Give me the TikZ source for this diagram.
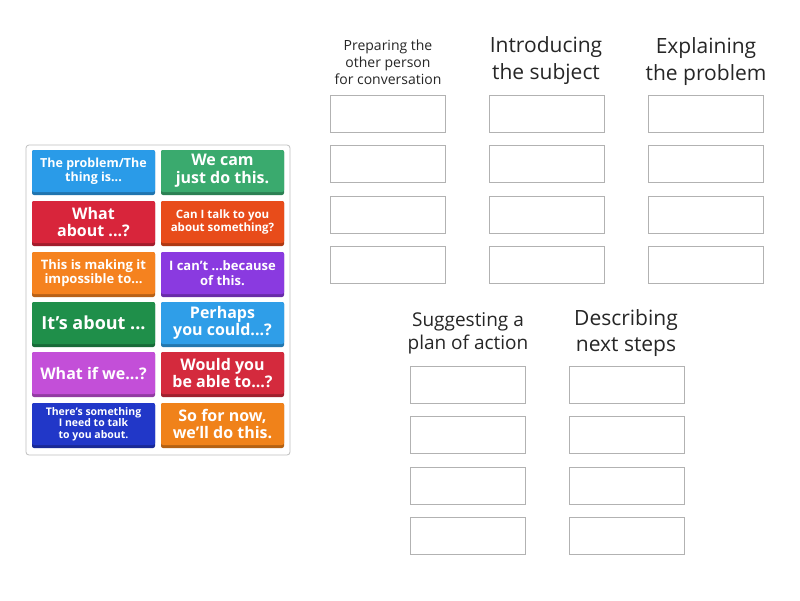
\documentclass[tikz,border=0pt]{standalone}
\usepackage{fontspec}
\setmainfont{Open Sans}
\begin{document}
\begin{tikzpicture}[x=1pt,y=-1pt,
  slot/.style={draw=black!30,line width=0.8pt,fill=white},
  hdr/.style={align=center,text=black!85,inner sep=0pt},
  tilebox/.style={rounded corners=2pt,inner sep=0pt},
  tiletext/.style={text=white,font=\bfseries,align=center,inner sep=0pt}]
\useasboundingbox (0,0) rectangle (800,600);
\fill[white] (0,0) rectangle (800,600);
\draw[black!25,line width=0.8pt,rounded corners=3pt] (26,145) rectangle (290,455);
\newcommand\tile[6]{% name x y color size text
  \fill[#4!75!black,tilebox] (#2,#3) rectangle ++(123,45);
  \fill[#4,tilebox] (#2,#3) rectangle ++(123,42);
  \node[tiletext,font=\bfseries\fontsize{#5}{\dimexpr#5pt*11/10\relax}\selectfont] (#1) at (#2+61.5,#3+21) {#6};}
\definecolor{cA}{HTML}{2A9BE8}\definecolor{cB}{HTML}{3AAA6E}
\definecolor{cC}{HTML}{D8253B}\definecolor{cD}{HTML}{E84C1A}
\definecolor{cE}{HTML}{F5821F}\definecolor{cF}{HTML}{8A3AE0}
\definecolor{cG}{HTML}{1F8F4A}\definecolor{cH}{HTML}{2F9EE8}
\definecolor{cI}{HTML}{C34FD8}\definecolor{cJ}{HTML}{D42A3D}
\definecolor{cK}{HTML}{2137C8}\definecolor{cL}{HTML}{F0821A}
\tile{t1}{32}{150}{cA}{12.5}{The problem/The\\thing is...}
\tile{t2}{161}{150}{cB}{16}{We cam\\just do this.}
\tile{t3}{32}{201}{cC}{16}{What\\about ...?}
\tile{t4}{161}{201}{cD}{11.5}{Can I talk to you\\about something?}
\tile{t5}{32}{252}{cE}{13}{This is making it\\impossible to...}
\tile{t6}{161}{252}{cF}{13}{I can't ...because\\of this.}
\tile{t7}{32}{302}{cG}{18}{It's about ...}
\tile{t8}{161}{302}{cH}{16}{Perhaps\\you could...?}
\tile{t9}{32}{352}{cI}{16}{What if we...?}
\tile{t10}{161}{352}{cJ}{16}{Would you\\be able to...?}
\tile{t11}{32}{403}{cK}{10.5}{There's something\\I need to talk\\to you about.}
\tile{t12}{161}{403}{cL}{16}{So for now,\\we'll do this.}
% headers
\node[hdr,font=\fontsize{14}{17}\selectfont] (h1) at (388,62) {Preparing the\\other person\\for conversation};
\node[hdr,font=\fontsize{21}{27}\selectfont] (h2) at (546,61) {Introducing\\the subject};
\node[hdr,font=\fontsize{21}{27}\selectfont] (h3) at (706,62) {Explaining\\the problem};
\node[hdr,font=\fontsize{19}{23}\selectfont] (h4) at (468,333) {Suggesting a\\plan of action};
\node[hdr,font=\fontsize{21}{26}\selectfont] (h5) at (626,333) {Describing\\next steps};
% slots
\foreach \x in {330,489,648}{
  \foreach \y in {95,145,196,246}{
    \draw[slot] (\x,\y) rectangle ++(115,37);}}
\foreach \x in {410,569}{
  \foreach \y in {366,416,467,517}{
    \draw[slot] (\x,\y) rectangle ++(115,37);}}
\end{tikzpicture}
\end{document}
